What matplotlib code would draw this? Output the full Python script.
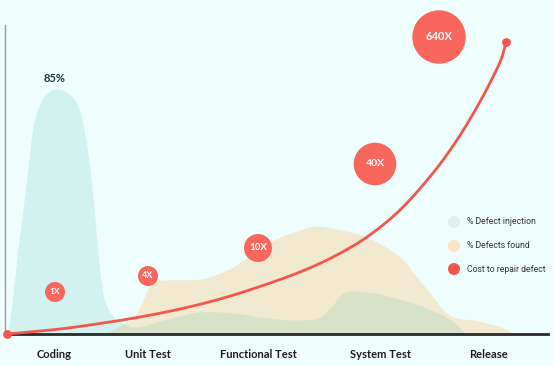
import numpy as np
import matplotlib
matplotlib.use("Agg")
import matplotlib.pyplot as plt
from matplotlib.patches import Circle

# ---------------- data ----------------
categories = ["Coding", "Unit Test", "Functional Test", "System Test", "Release"]
category_pos = [54, 148, 258, 381, 488]

# % defect injection (teal area)
inj_x = [7, 10, 14, 20, 27, 33, 42, 50, 57, 65, 75, 80, 84, 88, 91, 94, 97, 100, 103, 107,
         113, 122, 135, 150, 175, 200, 233, 267, 300, 320, 331, 343, 367, 391, 424, 451, 466]
inj_y = [0, 15, 50, 101, 157, 207, 234, 243, 245, 243, 234, 222, 205, 180, 155, 125, 92, 62, 40, 27,
         18, 11, 7, 10, 17, 22, 21, 16, 14, 17, 27, 41, 42, 37, 27, 14, 0]

# % defects found (beige area)
found_x = [105, 120, 130, 137, 143, 148, 153, 163, 200, 220, 233, 253, 274, 300, 317,
           341, 367, 400, 417, 433, 445, 456, 474, 490, 501, 514]
found_y = [0, 8, 14, 21, 34, 45, 52, 54, 55, 61, 67, 81, 94, 104, 108,
           104, 97, 77, 57, 37, 22, 16, 14, 10, 7, 0]

# cost to repair defect (red curve)
cost_x = [7, 60, 100, 140, 180, 220, 260, 300, 333, 367, 400, 433, 457, 477, 493, 502, 506]
cost_y = [0, 5, 10.5, 17, 25, 35, 47.5, 62, 77, 97, 124, 161, 194, 227, 257, 277, 292]

bubble_labels = ["1X", "4X", "10X", "40X", "640X"]
bubble_x = [55, 148, 258, 375, 439]
bubble_y = [42, 58, 86, 170, 297]
bubble_r = [10, 10, 14, 21.3, 26.7]
bubble_fs = [6, 6.5, 7, 7.5, 8]

peak_label = "85%"
legend_labels = ["% Defect injection", "% Defects found", "Cost to repair defect"]

# ---------------- style ----------------
BG = "#eefefd"
TEAL = "#d2f2ef"
BEIGE = "#f1ead0"
OVER = "#d8e2c8"
RED = "#f4554c"
BUB = "#f8665c"
LEG_COLORS = ["#dff2f0", "#fde3c4", "#f7554f"]


def hermite_central(x, y, xn):
    """Catmull-Rom style cubic Hermite through the points (central-difference slopes)."""
    x = np.asarray(x, float)
    y = np.asarray(y, float)
    n = len(x)
    h = np.diff(x)
    m = np.zeros(n)
    m[1:-1] = (y[2:] - y[:-2]) / (x[2:] - x[:-2])
    m[0] = (y[1] - y[0]) / h[0]
    m[-1] = (y[-1] - y[-2]) / h[-1]
    idx = np.clip(np.searchsorted(x, xn) - 1, 0, n - 2)
    t = (xn - x[idx]) / h[idx]
    h00 = 2 * t**3 - 3 * t**2 + 1
    h10 = t**3 - 2 * t**2 + t
    h01 = -2 * t**3 + 3 * t**2
    h11 = t**3 - t**2
    return h00 * y[idx] + h10 * h[idx] * m[idx] + h01 * y[idx + 1] + h11 * h[idx] * m[idx + 1]


W, H = 554, 366
fig = plt.figure(figsize=(W / 100, H / 100), dpi=100, facecolor=BG)
ax = fig.add_axes([5 / W, (H - 334) / H, (548 - 5) / W, (334 - 25) / H])
ax.set_facecolor(BG)
ax.set_xlim(5, 548)
ax.set_ylim(0, 309)

grid = np.linspace(5, 548, 3000)
inj_s = np.where((grid >= inj_x[0]) & (grid <= inj_x[-1]), hermite_central(inj_x, inj_y, grid), 0)
inj_s = np.clip(inj_s, 0, None)
found_s = np.where((grid >= found_x[0]) & (grid <= found_x[-1]),
                   hermite_central(found_x, found_y, grid), 0)
found_s = np.clip(found_s, 0, None)
over_s = np.minimum(inj_s, found_s)

ax.fill_between(grid, 0, inj_s, color=TEAL, lw=0, zorder=1)
ax.fill_between(grid, 0, found_s, color=BEIGE, lw=0, zorder=2)
ax.fill_between(grid, 0, over_s, color=OVER, lw=0, zorder=3)

cx = np.linspace(cost_x[0], cost_x[-1], 1500)
cy = hermite_central(cost_x, cost_y, cx)
ax.plot(cx, cy, color=RED, lw=2, zorder=5, solid_capstyle="round", clip_on=False)
ax.scatter([cost_x[0], cost_x[-1]], [cost_y[0], cost_y[-1]], s=40, color=RED,
           zorder=6, clip_on=False, lw=0)

for lab, bx, by, r, fs in zip(bubble_labels, bubble_x, bubble_y, bubble_r, bubble_fs):
    ax.add_patch(Circle((bx, by), r, color=BUB, zorder=7, clip_on=False, lw=0))
    ax.text(bx, by, lab, color="white", fontsize=fs, fontweight="bold",
            family=["Lato", "DejaVu Sans"], ha="center", va="center", zorder=8)

ax.text(inj_x[int(np.argmax(inj_y))] - 2, max(inj_y) + 11, peak_label, color="#1d3441",
        fontsize=8, fontweight="bold", family=["Lato", "DejaVu Sans"],
        ha="center", va="center", zorder=8)

# legend
leg_y = [112, 88, 65]
for lab, col, ly in zip(legend_labels, LEG_COLORS, leg_y):
    ax.add_patch(Circle((454, ly), 6, color=col, zorder=7, clip_on=False, lw=0))
    ax.text(467, ly, lab, color="#333333", fontsize=6.2,
            family=["Liberation Sans Narrow", "Roboto", "DejaVu Sans"],
            ha="left", va="center", zorder=8)

# axes styling
for s in ["top", "right"]:
    ax.spines[s].set_visible(False)
ax.spines["left"].set_color("#9a9a9a")
ax.spines["left"].set_linewidth(1)
ax.spines["bottom"].set_color("#2a2a2a")
ax.spines["bottom"].set_linewidth(2)
ax.spines["bottom"].set_zorder(4)
ax.set_yticks([])
ax.set_xticks(category_pos)
ax.set_xticklabels(categories, fontsize=8, fontweight="bold", color="#1e1e1e",
                   family=["Lato", "DejaVu Sans"])
ax.tick_params(axis="x", length=0, pad=11)

fig.savefig("out.png", dpi=100, facecolor=BG)
